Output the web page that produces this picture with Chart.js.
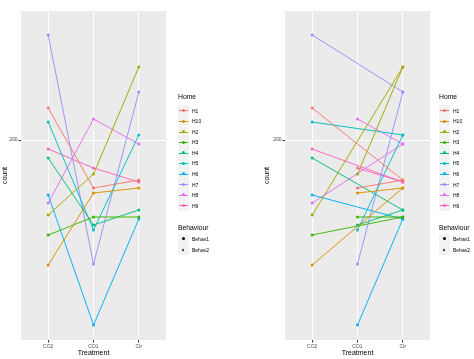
<!DOCTYPE html>
<html><head><meta charset="utf-8">
<script src="https://cdn.jsdelivr.net/npm/chart.js@4/dist/chart.umd.min.js"></script>
<style>
html,body{margin:0;padding:0;background:#fff;}
body{width:474px;height:359px;position:relative;overflow:hidden;font-family:"Liberation Sans",Arial,sans-serif;}
canvas{position:absolute;top:0;}
.lg{position:absolute;color:#000;}
.lt{position:absolute;font-size:6.8px;line-height:8px;white-space:nowrap;}
.key{position:absolute;width:11px;height:10.5px;background:#F2F2F2;}
.kl{position:absolute;left:1px;width:9px;top:5px;height:0.9px;}
.kp{position:absolute;left:4px;top:3.7px;width:3px;height:3px;border-radius:50%;}
.kt{position:absolute;left:3.6px;top:3.4px;width:0;height:0;border-left:1.9px solid transparent;border-right:1.9px solid transparent;border-bottom:3.2px solid #000;}
.lab{position:absolute;font-size:5px;line-height:6px;white-space:nowrap;}
</style></head>
<body>
<canvas id="c1" width="237" height="359" style="left:0;width:237px;height:359px"></canvas>
<canvas id="c2" width="237" height="359" style="left:237px;width:237px;height:359px"></canvas>
<div id="lg1" class="lg" style="left:178px;top:0"></div>
<div id="lg2" class="lg" style="left:439px;top:0"></div>
<script>
const treatments = ["CO2", "CO1", "Ctr"];
const homes = ["H1", "H10", "H2", "H3", "H4", "H5", "H6", "H7", "H8", "H9"];
const homeColors = ["#F8766D", "#D89000", "#A3A500", "#39B600", "#00BF7D", "#00BFC4", "#00B0F6", "#9590FF", "#E76BF3", "#FF62BC"];
const countCO2 = [232, 75, 125, 105, 182, 218, 145, 305, 137, 191];
const countCO1 = [152, 147, 166, 123, 115, 110, 15, 76, 221, 172];
const countCtr = [160, 152, 273, 123, 130, 205, 121, 248, 196, 158];
const behaviours = ["Behav1", "Behav2"];
const behaviourCO2 = ["Behav1","Behav1","Behav1","Behav1","Behav1","Behav1","Behav1","Behav1","Behav1","Behav1"];
const behaviourCO1 = ["Behav1","Behav1","Behav1","Behav1","Behav1","Behav1","Behav1","Behav1","Behav1","Behav1"];
const behaviourCtr = ["Behav1","Behav1","Behav1","Behav1","Behav1","Behav1","Behav1","Behav1","Behav1","Behav1"];
const yTicks = [200];
const yMin = 0, yMax = 329;

const FAM = '"Liberation Sans", Arial, sans-serif';
const shapeOf = b => b === "Behav2" ? "triangle" : "circle";

const panelBg = {id:'panelBg', beforeDraw(chart){
  const {ctx, chartArea:a} = chart;
  ctx.save(); ctx.fillStyle = '#EBEBEB';
  ctx.fillRect(a.left, a.top, a.right - a.left, a.bottom - a.top);
  ctx.restore();
}};

function ds(home, i, pts) {
  return {
    label: home,
    data: pts.map(p => ({x: p[0], y: p[1]})),
    pointStyle: pts.map(p => shapeOf(p[2])),
    borderColor: homeColors[i],
    backgroundColor: homeColors[i],
    pointBackgroundColor: homeColors[i],
    borderWidth: 0.95,
    pointRadius: pts.map(p => p[2] === "Behav2" ? 1.9 : 1.5),
    pointBorderWidth: 0,
    tension: 0,
    fill: false
  };
}

const leftSets = homes.map((h, i) => ds(h, i, [
  [0, countCO2[i], behaviourCO2[i]], [1, countCO1[i], behaviourCO1[i]], [2, countCtr[i], behaviourCtr[i]]
]));
const rightSets = [];
homes.forEach((h, i) => {
  rightSets.push(ds(h, i, [[0, countCO2[i], behaviourCO2[i]], [2, countCtr[i], behaviourCtr[i]]]));
  rightSets.push(ds(h, i, [[1, countCO1[i], behaviourCO1[i]], [2, countCtr[i], behaviourCtr[i]]]));
});

function opts(padLeft, yWidth, padRight, titlePad) {
  return {
    responsive: false, animation: false, devicePixelRatio: 1,
    layout: {padding: {left: padLeft, right: padRight, top: 11, bottom: 0}},
    plugins: {legend: {display: false}, tooltip: {enabled: false}},
    scales: {
      x: {
        type: 'linear', min: -0.6, max: 2.6,
        afterBuildTicks: s => { s.ticks = treatments.map((t, i) => ({value: i})); },
        ticks: {callback: v => treatments[v], font: {size: 5, family: FAM}, color: '#4D4D4D', padding: 1, maxRotation: 0, autoSkip: false},
        grid: {color: '#FFFFFF', lineWidth: 1, tickColor: '#333333', tickLength: 2.5, drawTicks: true},
        border: {display: false},
        title: {display: true, text: 'Treatment', font: {size: 7, family: FAM}, color: '#000', padding: {top: 0, bottom: 2}},
        afterFit: s => { s.height = 19; }
      },
      y: {
        type: 'linear', min: yMin, max: yMax,
        afterBuildTicks: s => { s.ticks = yTicks.map(v => ({value: v})); },
        ticks: {font: {size: 5, family: FAM}, color: '#4D4D4D', padding: 1},
        grid: {color: '#FFFFFF', lineWidth: 1, tickColor: '#333333', tickLength: 2.5, drawTicks: true},
        border: {display: false},
        title: {display: true, text: 'count', font: {size: 7, family: FAM}, color: '#000', padding: {top: titlePad, bottom: 0}},
        afterFit: s => { s.width = yWidth; }
      }
    }
  };
}

new Chart(document.getElementById('c1'), {type: 'line', data: {datasets: leftSets}, options: opts(0, 21, 71, 1), plugins: [panelBg]});
new Chart(document.getElementById('c2'), {type: 'line', data: {datasets: rightSets}, options: opts(22, 26, 44, 4), plugins: [panelBg]});

function buildLegend(el) {
  let html = '<div class="lt" style="left:0;top:93px">Home</div>';
  const y0 = 105.4, step = 10.55;
  homes.forEach((h, i) => {
    const top = y0 + i * step;
    html += `<div class="key" style="left:0;top:${top}px"><div class="kl" style="background:${homeColors[i]}"></div><div class="kp" style="background:${homeColors[i]}"></div></div>`;
    html += `<div class="lab" style="left:14px;top:${top + 2.3}px">${h}</div>`;
  });
  html += '<div class="lt" style="left:0;top:223.5px">Behaviour</div>';
  const b0 = 233.7;
  behaviours.forEach((b, i) => {
    const top = b0 + i * step;
    const sym = b === "Behav2" ? '<div class="kt"></div>' : '<div class="kp" style="background:#000"></div>';
    html += `<div class="key" style="left:0;top:${top}px">${sym}</div>`;
    html += `<div class="lab" style="left:14px;top:${top + 2.3}px">${b}</div>`;
  });
  el.innerHTML = html;
}
buildLegend(document.getElementById('lg1'));
buildLegend(document.getElementById('lg2'));
</script>
</body></html>
